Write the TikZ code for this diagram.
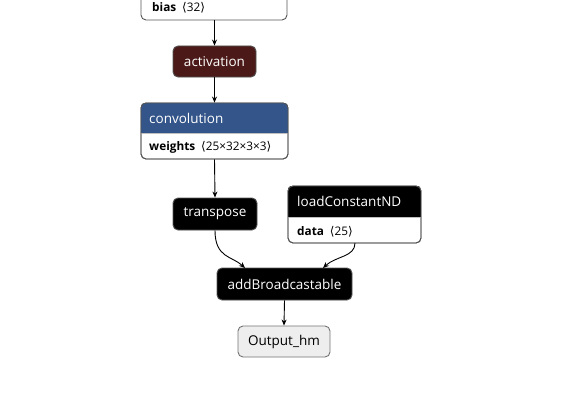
\documentclass[tikz,border=0pt]{standalone}
\usepackage{fontspec}
\setmainfont{Open Sans}
\newfontfamily\symf{DejaVu Sans}
\usetikzlibrary{arrows.meta}
\definecolor{actc}{HTML}{4B1A18}
\definecolor{convc}{HTML}{33558A}
\definecolor{outc}{HTML}{EEEEEE}
\definecolor{edgec}{HTML}{555555}
\tikzset{
  base/.style={rectangle, rounded corners=5pt, inner sep=0pt, line width=0.9pt, draw=edgec},
  blk/.style={base, fill=black, text=white, font=\fontsize{13.5}{15}\selectfont},
  whitebox/.style={base, fill=white},
  hdrtxt/.style={anchor=west, text=white, inner sep=0pt, font=\fontsize{13.5}{15}\selectfont},
  attr/.style={anchor=west, inner sep=0pt, font=\fontsize{11.8}{14}\selectfont},
  conn/.style={line width=0.9pt, -{Stealth[length=6pt,width=5pt]}},
  sep/.style={draw=black!25, line width=0.6pt}
}
\newcommand{\ang}[1]{{\symf\fontsize{12}{14}\selectfont ⟨}#1{\symf\fontsize{12}{14}\selectfont ⟩}}
\begin{document}
\begin{tikzpicture}[x=1pt,y=-1pt]
\useasboundingbox (0,0) rectangle (567,404);
\begin{scope}
\clip (0,0) rectangle (567,404);
% previous box (only the bottom visible)
\node[whitebox, minimum width=146pt, minimum height=50pt] (bias) at (214,-5) {};
\node[attr] (biastxt) at (152,8) {\textbf{bias}\enspace\ang{32}};
\end{scope}
% activation
\node[blk, fill=actc, minimum width=83pt, minimum height=31pt] (act) at (214.5,61.5) {activation};
% convolution
\node[whitebox, minimum width=147pt, minimum height=56pt] (conv) at (214.5,131) {};
\begin{scope}
\clip[rounded corners=5pt] (conv.north west) rectangle (conv.south east);
\fill[convc] (conv.north west) rectangle (288,133);
\end{scope}
\draw[sep] (141,133) -- (288,133);
\node[whitebox, fill=none, minimum width=147pt, minimum height=56pt] at (214.5,131) {};
\node[hdrtxt] (convt) at (149,118.5) {convolution};
\node[attr] (convw) at (149,147.5) {\textbf{weights}\enspace\ang{25×32×3×3}};
% transpose
\node[blk, minimum width=84pt, minimum height=32pt] (trans) at (215,214) {transpose};
% loadConstantND
\node[whitebox, minimum width=133pt, minimum height=57pt] (load) at (354.5,214.5) {};
\begin{scope}
\clip[rounded corners=5pt] (load.north west) rectangle (load.south east);
\fill[black] (load.north west) rectangle (421,217);
\end{scope}
\draw[sep] (288,217) -- (421,217);
\node[whitebox, fill=none, minimum width=133pt, minimum height=57pt] at (354.5,214.5) {};
\node[hdrtxt] (loadt) at (297,201.5) {loadConstantND};
\node[attr] (loadd) at (297,231.5) {\textbf{data}\enspace\ang{25}};
% addBroadcastable
\node[blk, minimum width=135pt, minimum height=32pt] (add) at (284.5,284) {addBroadcastable};
% output
\node[base, fill=outc, draw=black!55, minimum width=92pt, minimum height=31pt, font=\fontsize{13.5}{15}\selectfont] (out) at (284,341.5) {Output\_hm};
% connectors
\coordinate (biasb) at (214.5,20);
\draw[conn] (biasb) -- (act.north);
\draw[conn] (act.south) -- (conv.north);
\draw[conn] (conv.south) -- (trans.north);
\coordinate (addin1) at (245,268);
\coordinate (addin2) at (323,268);
\coordinate (loadout) at (355,243);
\draw[conn] (trans.south) .. controls (215,258) and (232,256) .. (addin1);
\draw[conn] (loadout) .. controls (355,257) and (336,256) .. (addin2);
\draw[conn] (add.south) -- (out.north);
\end{tikzpicture}
\end{document}
